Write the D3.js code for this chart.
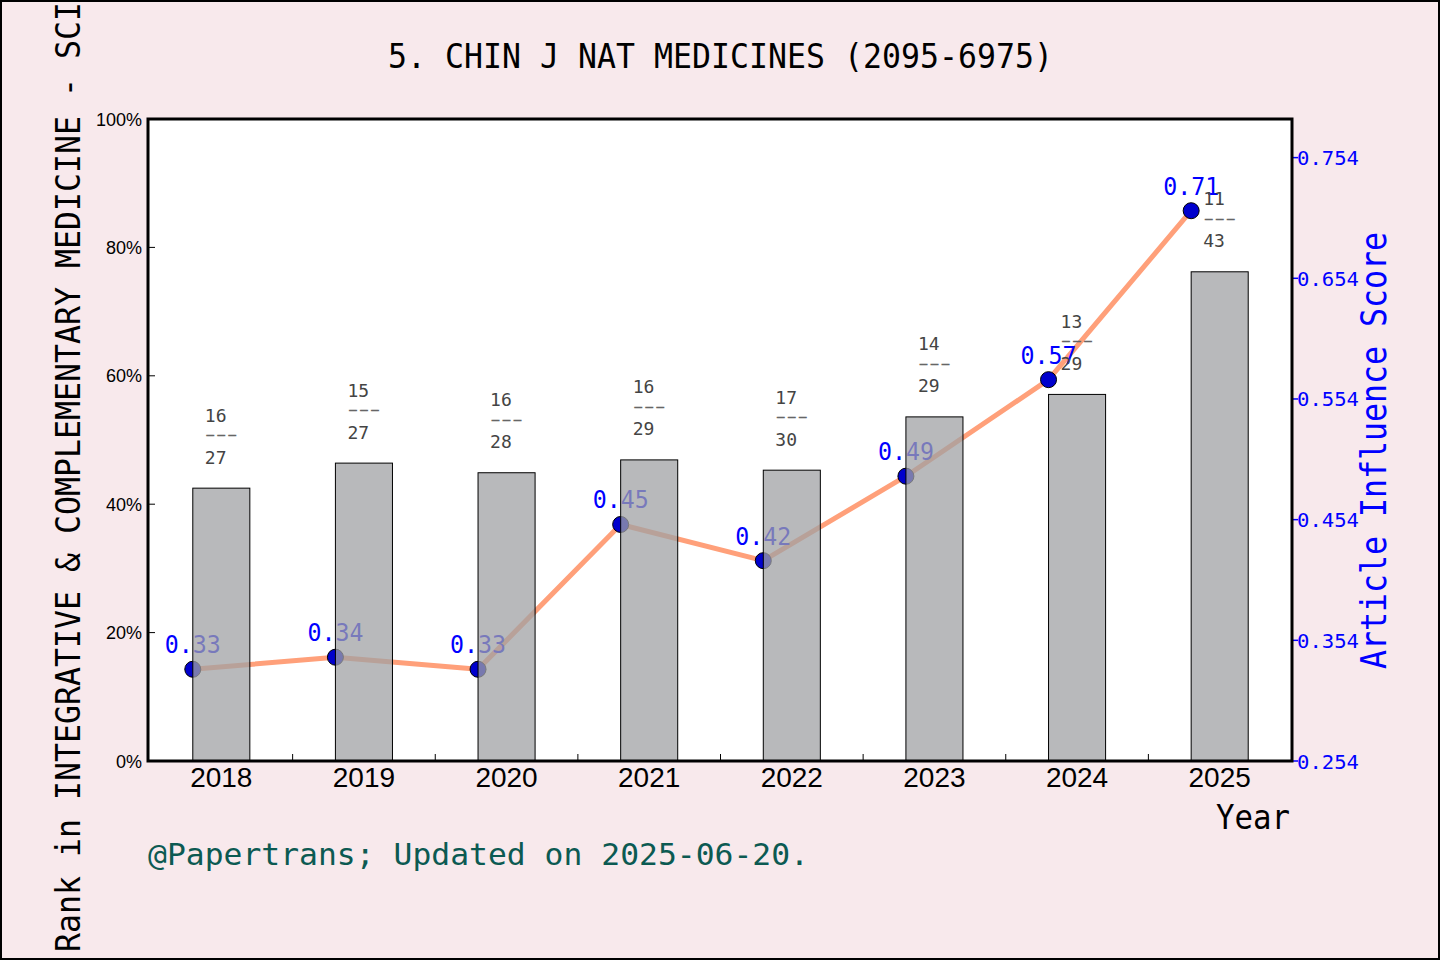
<!DOCTYPE html>
<html>
<head>
<meta charset="utf-8">
<script src="https://cdn.jsdelivr.net/npm/d3@7"></script>
<style>
  body { margin: 0; background: #f8e9ec; }
  svg { display: block; }
</style>
</head>
<body>
<div id="chart"></div>
<script>
const years = [2018, 2019, 2020, 2021, 2022, 2023, 2024, 2025];
const rankValues = [16, 15, 16, 16, 17, 14, 13, 11];
const totalValues = [27, 27, 28, 29, 30, 29, 29, 43];
const barPercent = [42.5, 46.4, 44.9, 46.9, 45.3, 53.6, 57.1, 76.2];
const aisValues = [0.33, 0.34, 0.33, 0.45, 0.42, 0.49, 0.57, 0.71];
const leftTicks = [0, 20, 40, 60, 80, 100];
const rightTicks = [0.254, 0.354, 0.454, 0.554, 0.654, 0.754];

const titleText = "5. CHIN J NAT MEDICINES (2095-6975)";
const leftLabel = "Rank in INTEGRATIVE & COMPLEMENTARY MEDICINE - SCI";
const rightLabel = "Article Influence Score";
const footerText = "@Papertrans; Updated on 2025-06-20.";

const W = 1440, H = 960;
const plot = { left: 148, right: 1292, top: 119, bottom: 761 };
const mono = "'DejaVu Sans Mono', 'Liberation Mono', monospace";
const sans = "'Liberation Sans', Arial, sans-serif";
const charW = 19; // advance of the big monospaced labels

const svg = d3.select("#chart").append("svg")
  .attr("width", W)
  .attr("height", H);

svg.append("rect")
  .attr("x", 1).attr("y", 1)
  .attr("width", W - 2).attr("height", H - 2)
  .attr("fill", "#f8e9ec")
  .attr("stroke", "#000")
  .attr("stroke-width", 2);

svg.append("rect")
  .attr("x", plot.left).attr("y", plot.top)
  .attr("width", plot.right - plot.left)
  .attr("height", plot.bottom - plot.top)
  .attr("fill", "#fff");

const x = d3.scaleBand().domain(years).range([150, 1291]);
const yLeft = d3.scaleLinear().domain([0, 100]).range([plot.bottom, plot.top]);
const yRight = d3.scaleLinear().domain([0.254, 0.786]).range([plot.bottom, plot.top]);

const barW = x.bandwidth() * 0.4;
const cx = (d) => x(d) + x.bandwidth() / 2;
const px = (d) => cx(d) - barW / 2;

const rows = years.map((year, i) => ({
  year,
  rank: rankValues[i],
  total: totalValues[i],
  pct: barPercent[i],
  ais: aisValues[i],
}));

// AIS line, dots and labels (sit under the translucent bars)
const line = d3.line()
  .x((d) => px(d.year))
  .y((d) => yRight(d.ais));

svg.append("path")
  .datum(rows)
  .attr("d", line)
  .attr("fill", "none")
  .attr("stroke", "#ffa07a")
  .attr("stroke-width", 5)
  .attr("stroke-linejoin", "round");

svg.selectAll(".dot")
  .data(rows)
  .enter()
  .append("circle")
  .attr("class", "dot")
  .attr("cx", (d) => px(d.year))
  .attr("cy", (d) => yRight(d.ais))
  .attr("r", 8)
  .attr("fill", "#0000cd")
  .attr("stroke", "#000")
  .attr("stroke-width", 1);

svg.selectAll(".ais-label")
  .data(rows)
  .enter()
  .append("text")
  .attr("class", "ais-label")
  .attr("x", (d) => px(d.year))
  .attr("y", (d) => yRight(d.ais) - 16)
  .attr("text-anchor", "middle")
  .attr("font-family", mono)
  .attr("font-size", 24)
  .attr("fill", "#0000ff")
  .attr("textLength", 56)
  .attr("lengthAdjust", "spacingAndGlyphs")
  .text((d) => d.ais.toFixed(2));

// bars
svg.selectAll(".bar")
  .data(rows)
  .enter()
  .append("rect")
  .attr("class", "bar")
  .attr("x", (d) => cx(d.year) - barW / 2)
  .attr("y", (d) => yLeft(d.pct))
  .attr("width", barW)
  .attr("height", (d) => plot.bottom - yLeft(d.pct))
  .attr("fill", "#a0a1a4")
  .attr("fill-opacity", 0.75)
  .attr("stroke", "#000")
  .attr("stroke-width", 1);

// rank / total labels
const rankG = svg.selectAll(".rank")
  .data(rows)
  .enter()
  .append("g")
  .attr("class", "rank")
  .attr("font-family", mono)
  .attr("font-size", 18)
  .attr("fill", "#444");

rankG.append("text")
  .attr("x", (d) => cx(d.year) - 16.5)
  .attr("y", (d) => yLeft(d.pct) - 66.5)
  .text((d) => d.rank);
rankG.append("text")
  .attr("x", (d) => cx(d.year) - 16.5)
  .attr("y", (d) => yLeft(d.pct) - 47)
  .attr("font-family", sans)
  .attr("fill", "#666")
  .attr("textLength", 33)
  .attr("lengthAdjust", "spacingAndGlyphs")
  .text("---");
rankG.append("text")
  .attr("x", (d) => cx(d.year) - 16.5)
  .attr("y", (d) => yLeft(d.pct) - 24.5)
  .text((d) => d.total);

// left axis
const leftAxis = svg.append("g");
leftAxis.selectAll("line")
  .data(leftTicks)
  .enter()
  .append("line")
  .attr("x1", plot.left).attr("x2", plot.left + 7)
  .attr("y1", (d) => yLeft(d)).attr("y2", (d) => yLeft(d))
  .attr("stroke", "#000");
leftAxis.selectAll("text")
  .data(leftTicks)
  .enter()
  .append("text")
  .attr("x", plot.left - 6)
  .attr("y", (d) => yLeft(d) + 6.5)
  .attr("text-anchor", "end")
  .attr("font-family", sans)
  .attr("font-size", 18)
  .text((d) => d + "%");

// right axis
const rightAxis = svg.append("g");
rightAxis.selectAll("line")
  .data(rightTicks)
  .enter()
  .append("line")
  .attr("x1", plot.right).attr("x2", plot.right + 6)
  .attr("y1", (d) => yRight(d)).attr("y2", (d) => yRight(d))
  .attr("stroke", "#0000ff")
  .attr("stroke-width", 1.5);
rightAxis.selectAll("text")
  .data(rightTicks)
  .enter()
  .append("text")
  .attr("x", plot.right + 5)
  .attr("y", (d) => yRight(d) + 7.5)
  .attr("font-family", mono)
  .attr("font-size", 20)
  .attr("fill", "#0000ff")
  .attr("textLength", 62)
  .attr("lengthAdjust", "spacingAndGlyphs")
  .text((d) => d.toFixed(3));

// bottom axis
const bottomAxis = svg.append("g");
bottomAxis.selectAll("line")
  .data(years.slice(1))
  .enter()
  .append("line")
  .attr("x1", (d) => x(d)).attr("x2", (d) => x(d))
  .attr("y1", plot.bottom).attr("y2", plot.bottom - 7)
  .attr("stroke", "#000");
bottomAxis.selectAll("text")
  .data(years)
  .enter()
  .append("text")
  .attr("x", (d) => cx(d))
  .attr("y", 787)
  .attr("text-anchor", "middle")
  .attr("font-family", sans)
  .attr("font-size", 28)
  .text((d) => d);

// frame of the plot
svg.append("rect")
  .attr("x", plot.left).attr("y", plot.top)
  .attr("width", plot.right - plot.left)
  .attr("height", plot.bottom - plot.top)
  .attr("fill", "none")
  .attr("stroke", "#000")
  .attr("stroke-width", 3);

// titles
svg.append("text")
  .attr("x", 720.5)
  .attr("y", 68)
  .attr("text-anchor", "middle")
  .attr("font-family", mono)
  .attr("font-size", 33)
  .attr("textLength", titleText.length * charW)
  .attr("lengthAdjust", "spacingAndGlyphs")
  .text(titleText);

svg.append("text")
  .attr("transform", "translate(80,952) rotate(-90)")
  .attr("font-family", mono)
  .attr("font-size", 34)
  .attr("textLength", leftLabel.length * charW)
  .attr("lengthAdjust", "spacingAndGlyphs")
  .text(leftLabel);

svg.append("text")
  .attr("transform", "translate(1386,450.5) rotate(-90)")
  .attr("text-anchor", "middle")
  .attr("font-family", mono)
  .attr("font-size", 36)
  .attr("fill", "#0000ff")
  .attr("textLength", rightLabel.length * charW)
  .attr("lengthAdjust", "spacingAndGlyphs")
  .text(rightLabel);

svg.append("text")
  .attr("x", 1290)
  .attr("y", 829)
  .attr("text-anchor", "end")
  .attr("font-family", mono)
  .attr("font-size", 33)
  .attr("textLength", 74)
  .attr("lengthAdjust", "spacingAndGlyphs")
  .text("Year");

svg.append("text")
  .attr("x", 148)
  .attr("y", 865)
  .attr("font-family", mono)
  .attr("font-size", 31)
  .attr("fill", "#0c5a52")
  .attr("textLength", footerText.length * charW - 4)
  .attr("lengthAdjust", "spacingAndGlyphs")
  .text(footerText);
</script>
</body>
</html>
